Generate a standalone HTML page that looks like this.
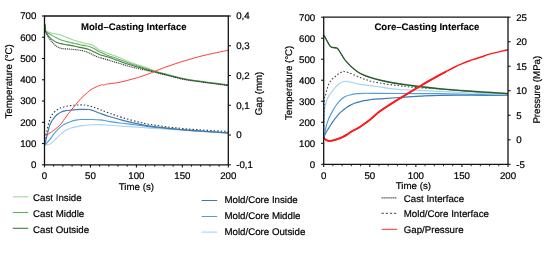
<!DOCTYPE html>
<html><head><meta charset="utf-8"><title>Chart</title>
<style>html,body{margin:0;padding:0;background:#fff;width:550px;height:253px;overflow:hidden}svg{display:block}text{stroke:#000;stroke-width:0.2px;text-rendering:geometricPrecision}</style>
</head><body>
<svg width="550" height="253" viewBox="0 0 550 253" font-family='"Liberation Sans", Arial, Helvetica, sans-serif' font-size="9.7" fill="#000" stroke="none">
<rect width="550" height="253" fill="#ffffff"/>
<path d="M44.90,144.80 C45.25,144.82 46.15,145.02 47.00,144.90 C47.85,144.78 48.85,144.78 50.00,144.10 C51.15,143.42 52.58,142.02 53.90,140.80 C55.22,139.58 56.58,138.03 57.90,136.80 C59.22,135.57 60.45,134.53 61.80,133.40 C63.15,132.27 64.48,130.88 66.00,130.00 C67.52,129.12 69.25,128.62 70.90,128.10 C72.55,127.58 74.22,127.27 75.90,126.90 C77.58,126.53 78.20,126.25 81.00,125.90 C83.80,125.55 89.53,125.02 92.70,124.80 C95.87,124.58 97.12,124.52 100.00,124.60 C102.88,124.68 106.20,125.03 110.00,125.30 C113.80,125.57 118.13,125.88 122.80,126.20 C127.47,126.52 133.92,126.92 138.00,127.20 C142.08,127.48 144.33,127.68 147.30,127.90 C150.27,128.12 151.02,128.18 155.80,128.50 C160.58,128.82 168.63,129.32 176.00,129.80 C183.37,130.28 191.33,130.83 200.00,131.40 C208.67,131.97 223.33,132.90 228.00,133.20" fill="none" stroke="#a9d3f0" stroke-width="1.1" stroke-linejoin="round" opacity="1.0"/>
<path d="M44.90,144.60 C45.08,144.47 45.15,144.68 46.00,143.80 C46.85,142.92 48.68,140.95 50.00,139.30 C51.32,137.65 52.58,135.55 53.90,133.90 C55.22,132.25 56.58,130.73 57.90,129.40 C59.22,128.07 60.45,126.88 61.80,125.90 C63.15,124.92 64.48,124.25 66.00,123.50 C67.52,122.75 69.25,121.97 70.90,121.40 C72.55,120.83 74.22,120.42 75.90,120.10 C77.58,119.78 78.63,119.60 81.00,119.50 C83.37,119.40 86.93,119.43 90.10,119.50 C93.27,119.57 96.68,119.55 100.00,119.90 C103.32,120.25 106.20,121.03 110.00,121.60 C113.80,122.17 118.13,122.70 122.80,123.30 C127.47,123.90 133.92,124.68 138.00,125.20 C142.08,125.72 144.33,126.03 147.30,126.40 C150.27,126.77 151.02,126.92 155.80,127.40 C160.58,127.88 168.63,128.68 176.00,129.30 C183.37,129.92 191.33,130.48 200.00,131.10 C208.67,131.72 223.33,132.68 228.00,133.00" fill="none" stroke="#4f9fdc" stroke-width="1.1" stroke-linejoin="round" opacity="1.0"/>
<path d="M44.90,144.60 C45.08,143.75 45.60,141.18 46.00,139.50 C46.40,137.82 46.88,136.17 47.30,134.50 C47.72,132.83 48.10,131.02 48.50,129.50 C48.90,127.98 49.28,126.55 49.70,125.40 C50.12,124.25 50.60,123.42 51.00,122.60 C51.40,121.78 51.52,121.38 52.10,120.50 C52.68,119.62 53.58,118.35 54.50,117.30 C55.42,116.25 56.55,115.05 57.60,114.20 C58.65,113.35 59.57,112.75 60.80,112.20 C62.03,111.65 63.32,111.25 65.00,110.90 C66.68,110.55 69.08,110.32 70.90,110.10 C72.72,109.88 74.22,109.72 75.90,109.60 C77.58,109.48 78.83,109.42 81.00,109.40 C83.17,109.38 86.95,109.32 88.90,109.50 C90.85,109.68 90.85,109.87 92.70,110.50 C94.55,111.13 97.12,112.25 100.00,113.30 C102.88,114.35 106.20,115.63 110.00,116.80 C113.80,117.97 118.13,119.12 122.80,120.30 C127.47,121.48 133.92,123.02 138.00,123.90 C142.08,124.78 144.33,125.10 147.30,125.60 C150.27,126.10 151.02,126.32 155.80,126.90 C160.58,127.48 168.63,128.42 176.00,129.10 C183.37,129.78 191.33,130.38 200.00,131.00 C208.67,131.62 223.33,132.50 228.00,132.80" fill="none" stroke="#3d7ab3" stroke-width="1.2" stroke-linejoin="round" opacity="1.0"/>
<path d="M44.90,138.50 C45.13,137.62 45.90,134.78 46.30,133.20 C46.70,131.62 46.92,130.60 47.30,129.00 C47.68,127.40 48.07,125.50 48.60,123.60 C49.13,121.70 49.78,119.25 50.50,117.60 C51.22,115.95 51.97,114.88 52.90,113.70 C53.83,112.52 55.05,111.35 56.10,110.50 C57.15,109.65 58.15,109.12 59.20,108.60 C60.25,108.08 61.17,107.78 62.40,107.40 C63.63,107.02 65.18,106.60 66.60,106.30 C68.02,106.00 69.35,105.80 70.90,105.60 C72.45,105.40 74.22,105.22 75.90,105.10 C77.58,104.98 79.27,104.88 81.00,104.90 C82.73,104.92 84.35,104.87 86.30,105.20 C88.25,105.53 90.42,106.17 92.70,106.90 C94.98,107.63 97.12,108.52 100.00,109.60 C102.88,110.68 106.20,112.05 110.00,113.40 C113.80,114.75 118.13,116.28 122.80,117.70 C127.47,119.12 133.92,120.87 138.00,121.90 C142.08,122.93 144.33,123.33 147.30,123.90 C150.27,124.47 151.02,124.63 155.80,125.30 C160.58,125.97 168.63,127.13 176.00,127.90 C183.37,128.67 191.33,129.30 200.00,129.90 C208.67,130.50 223.33,131.23 228.00,131.50" fill="none" stroke="#3a3a3a" stroke-width="1.1" stroke-dasharray="1.5,2.0" stroke-linejoin="round" opacity="1.0"/>
<path d="M44.90,24.00 C44.97,24.92 45.05,28.30 45.30,29.50 C45.55,30.70 45.43,30.62 46.40,31.20 C47.37,31.78 49.53,32.53 51.10,33.00 C52.67,33.47 54.42,33.75 55.80,34.00 C57.18,34.25 58.37,34.27 59.40,34.50 C60.43,34.73 60.73,34.92 62.00,35.40 C63.27,35.88 65.35,36.73 67.00,37.40 C68.65,38.07 70.25,38.78 71.90,39.40 C73.55,40.02 75.22,40.57 76.90,41.10 C78.58,41.63 80.65,42.22 82.00,42.60 C83.35,42.98 83.68,43.10 85.00,43.40 C86.32,43.70 88.58,44.07 89.90,44.40 C91.22,44.73 91.92,44.92 92.90,45.40 C93.88,45.88 94.95,46.70 95.80,47.30 C96.65,47.90 97.30,48.50 98.00,49.00 C98.70,49.50 98.35,49.57 100.00,50.30 C101.65,51.03 104.90,52.30 107.90,53.40 C110.90,54.50 114.18,55.38 118.00,56.90 C121.82,58.42 126.13,60.73 130.80,62.50 C135.47,64.27 141.98,66.10 146.00,67.50 C150.02,68.90 151.77,69.87 154.90,70.90 C158.03,71.93 161.52,72.80 164.80,73.70 C168.08,74.60 171.23,75.47 174.60,76.30 C177.97,77.13 180.30,77.85 185.00,78.70 C189.70,79.55 196.87,80.55 202.80,81.40 C208.73,82.25 216.40,83.25 220.60,83.80 C224.80,84.35 226.77,84.55 228.00,84.70" fill="none" stroke="#a3d89c" stroke-width="1.1" stroke-linejoin="round" opacity="1.0"/>
<path d="M44.90,24.00 C44.97,24.92 45.05,28.20 45.30,29.50 C45.55,30.80 45.43,30.92 46.40,31.80 C47.37,32.68 49.53,33.83 51.10,34.80 C52.67,35.77 54.42,36.87 55.80,37.60 C57.18,38.33 58.20,38.70 59.40,39.20 C60.60,39.70 61.73,40.20 63.00,40.60 C64.27,41.00 65.52,41.22 67.00,41.60 C68.48,41.98 70.25,42.52 71.90,42.90 C73.55,43.28 75.22,43.53 76.90,43.90 C78.58,44.27 80.65,44.82 82.00,45.10 C83.35,45.38 83.68,45.33 85.00,45.60 C86.32,45.87 88.42,46.23 89.90,46.70 C91.38,47.17 92.75,47.82 93.90,48.40 C95.05,48.98 95.78,49.58 96.80,50.20 C97.82,50.82 98.15,51.23 100.00,52.10 C101.85,52.97 104.90,54.27 107.90,55.40 C110.90,56.53 114.18,57.50 118.00,58.90 C121.82,60.30 126.13,62.18 130.80,63.80 C135.47,65.42 141.98,67.35 146.00,68.60 C150.02,69.85 151.77,70.40 154.90,71.30 C158.03,72.20 161.52,73.12 164.80,74.00 C168.08,74.88 171.23,75.77 174.60,76.60 C177.97,77.43 180.30,78.15 185.00,79.00 C189.70,79.85 196.87,80.87 202.80,81.70 C208.73,82.53 216.40,83.47 220.60,84.00 C224.80,84.53 226.77,84.75 228.00,84.90" fill="none" stroke="#5eb25e" stroke-width="1.1" stroke-linejoin="round" opacity="1.0"/>
<path d="M44.90,24.50 C44.97,25.42 45.05,28.58 45.30,30.00 C45.55,31.42 45.63,31.73 46.40,33.00 C47.17,34.27 48.72,36.33 49.90,37.60 C51.08,38.87 52.32,39.78 53.50,40.60 C54.68,41.42 55.82,42.00 57.00,42.50 C58.18,43.00 59.43,43.30 60.60,43.60 C61.77,43.90 62.93,44.08 64.00,44.30 C65.07,44.52 65.68,44.68 67.00,44.90 C68.32,45.12 70.25,45.28 71.90,45.60 C73.55,45.92 75.55,46.50 76.90,46.80 C78.25,47.10 78.65,47.13 80.00,47.40 C81.35,47.67 83.35,47.98 85.00,48.40 C86.65,48.82 88.25,49.25 89.90,49.90 C91.55,50.55 93.22,51.50 94.90,52.30 C96.58,53.10 97.83,53.93 100.00,54.70 C102.17,55.47 104.90,55.92 107.90,56.90 C110.90,57.88 114.18,59.23 118.00,60.60 C121.82,61.97 126.13,63.62 130.80,65.10 C135.47,66.58 141.98,68.38 146.00,69.50 C150.02,70.62 151.77,70.98 154.90,71.80 C158.03,72.62 161.52,73.55 164.80,74.40 C168.08,75.25 171.23,76.08 174.60,76.90 C177.97,77.72 180.30,78.47 185.00,79.30 C189.70,80.13 196.87,81.08 202.80,81.90 C208.73,82.72 216.40,83.67 220.60,84.20 C224.80,84.73 226.77,84.95 228.00,85.10" fill="none" stroke="#437c43" stroke-width="1.1" stroke-linejoin="round" opacity="1.0"/>
<path d="M44.90,25.00 C44.97,25.92 45.05,29.07 45.30,30.50 C45.55,31.93 45.63,32.10 46.40,33.60 C47.17,35.10 48.72,37.82 49.90,39.50 C51.08,41.18 52.32,42.52 53.50,43.70 C54.68,44.88 55.82,45.85 57.00,46.60 C58.18,47.35 59.43,47.83 60.60,48.20 C61.77,48.57 62.93,48.68 64.00,48.80 C65.07,48.92 65.68,48.82 67.00,48.90 C68.32,48.98 70.25,49.15 71.90,49.30 C73.55,49.45 75.55,49.63 76.90,49.80 C78.25,49.97 78.65,50.05 80.00,50.30 C81.35,50.55 83.35,50.80 85.00,51.30 C86.65,51.80 88.25,52.55 89.90,53.30 C91.55,54.05 93.22,55.07 94.90,55.80 C96.58,56.53 97.83,57.02 100.00,57.70 C102.17,58.38 104.90,59.02 107.90,59.90 C110.90,60.78 114.18,61.85 118.00,63.00 C121.82,64.15 126.13,65.58 130.80,66.80 C135.47,68.02 141.98,69.38 146.00,70.30 C150.02,71.22 151.77,71.55 154.90,72.30 C158.03,73.05 161.52,73.97 164.80,74.80 C168.08,75.63 171.23,76.48 174.60,77.30 C177.97,78.12 180.30,78.87 185.00,79.70 C189.70,80.53 196.87,81.48 202.80,82.30 C208.73,83.12 216.40,84.07 220.60,84.60 C224.80,85.13 226.77,85.35 228.00,85.50" fill="none" stroke="#333333" stroke-width="1.1" stroke-dasharray="1.1,0.8" stroke-linejoin="round" opacity="1.0"/>
<path d="M44.90,135.30 C45.08,135.23 45.48,135.08 46.00,134.90 C46.52,134.72 47.33,134.53 48.00,134.20 C48.67,133.87 49.18,133.45 50.00,132.90 C50.82,132.35 51.75,131.73 52.90,130.90 C54.05,130.07 55.57,129.05 56.90,127.90 C58.23,126.75 59.83,125.20 60.90,124.00 C61.97,122.80 62.35,122.03 63.30,120.70 C64.25,119.37 65.33,117.72 66.60,116.00 C67.87,114.28 69.35,112.33 70.90,110.40 C72.45,108.47 74.22,106.40 75.90,104.40 C77.58,102.40 79.50,100.00 81.00,98.40 C82.50,96.80 83.42,96.15 84.90,94.80 C86.38,93.45 88.25,91.50 89.90,90.30 C91.55,89.10 93.17,88.42 94.80,87.60 C96.43,86.78 98.38,85.88 99.70,85.40 C101.02,84.92 102.03,84.73 102.70,84.70 C103.37,84.67 103.20,85.25 103.70,85.20 C104.20,85.15 104.65,84.65 105.70,84.40 C106.75,84.15 107.97,84.00 110.00,83.70 C112.03,83.40 114.93,83.17 117.90,82.60 C120.87,82.03 124.52,81.13 127.80,80.30 C131.08,79.47 134.23,78.63 137.60,77.60 C140.97,76.57 145.12,75.15 148.00,74.10 C150.88,73.05 152.10,72.42 154.90,71.30 C157.70,70.18 161.52,68.62 164.80,67.40 C168.08,66.18 171.23,65.12 174.60,64.00 C177.97,62.88 180.30,62.08 185.00,60.70 C189.70,59.32 196.87,57.18 202.80,55.70 C208.73,54.22 216.40,52.70 220.60,51.80 C224.80,50.90 226.77,50.55 228.00,50.30" fill="none" stroke="#ff3b3b" stroke-width="1.0" stroke-linejoin="round" opacity="1.0"/>
<path d="M323.60,137.40 C323.83,136.92 324.35,135.73 325.00,134.50 C325.65,133.27 326.68,131.37 327.50,130.00 C328.32,128.63 328.98,127.75 329.90,126.30 C330.82,124.85 331.90,122.88 333.00,121.30 C334.10,119.72 335.38,118.15 336.50,116.80 C337.62,115.45 338.62,114.28 339.70,113.20 C340.78,112.12 341.87,111.23 343.00,110.30 C344.13,109.37 345.33,108.42 346.50,107.60 C347.67,106.78 348.67,106.12 350.00,105.40 C351.33,104.68 352.93,103.90 354.50,103.30 C356.07,102.70 357.82,102.23 359.40,101.80 C360.98,101.37 362.35,101.03 364.00,100.70 C365.65,100.37 367.47,100.07 369.30,99.80 C371.13,99.53 372.57,99.30 375.00,99.10 C377.43,98.90 379.40,98.90 383.90,98.60 C388.40,98.30 395.98,97.70 402.00,97.30 C408.02,96.90 413.67,96.53 420.00,96.20 C426.33,95.87 431.67,95.47 440.00,95.30 C448.33,95.13 458.67,95.17 470.00,95.20 C481.33,95.23 501.67,95.45 508.00,95.50" fill="none" stroke="#3d7ab3" stroke-width="1.2" stroke-linejoin="round" opacity="1.0"/>
<path d="M323.60,137.40 C323.68,137.33 323.68,138.80 324.10,137.00 C324.52,135.20 325.30,129.72 326.10,126.60 C326.90,123.48 327.85,120.83 328.90,118.30 C329.95,115.77 331.17,113.62 332.40,111.40 C333.63,109.18 335.12,106.72 336.30,105.00 C337.48,103.28 338.45,102.22 339.50,101.10 C340.55,99.98 341.55,99.10 342.60,98.30 C343.65,97.50 344.57,96.85 345.80,96.30 C347.03,95.75 348.15,95.43 350.00,95.00 C351.85,94.57 354.77,93.98 356.90,93.70 C359.03,93.42 359.78,93.37 362.80,93.30 C365.82,93.23 368.47,93.27 375.00,93.30 C381.53,93.33 391.17,93.43 402.00,93.50 C412.83,93.57 428.67,93.57 440.00,93.70 C451.33,93.83 458.67,94.08 470.00,94.30 C481.33,94.52 501.67,94.88 508.00,95.00" fill="none" stroke="#4f9fdc" stroke-width="1.2" stroke-linejoin="round" opacity="1.0"/>
<path d="M323.60,137.40 C323.67,134.17 323.85,122.48 324.00,118.00 C324.15,113.52 324.25,112.75 324.50,110.50 C324.75,108.25 325.08,106.33 325.50,104.50 C325.92,102.67 326.42,100.98 327.00,99.50 C327.58,98.02 328.35,96.68 329.00,95.60 C329.65,94.52 329.93,94.30 330.90,93.00 C331.87,91.70 333.48,89.32 334.80,87.80 C336.12,86.28 337.47,84.92 338.80,83.90 C340.13,82.88 341.43,82.13 342.80,81.70 C344.17,81.27 345.47,81.20 347.00,81.30 C348.53,81.40 349.83,81.80 352.00,82.30 C354.17,82.80 356.88,83.75 360.00,84.30 C363.12,84.85 367.15,85.12 370.70,85.60 C374.25,86.08 376.42,86.55 381.30,87.20 C386.18,87.85 390.22,88.82 400.00,89.50 C409.78,90.18 428.33,90.72 440.00,91.30 C451.67,91.88 458.67,92.45 470.00,93.00 C481.33,93.55 501.67,94.33 508.00,94.60" fill="none" stroke="#a9d3f0" stroke-width="1.2" stroke-linejoin="round" opacity="1.0"/>
<path d="M323.60,137.00 C323.67,132.50 323.85,116.60 324.00,110.00 C324.15,103.40 324.25,99.92 324.50,97.40 C324.75,94.88 325.18,95.85 325.50,94.90 C325.82,93.95 326.08,92.88 326.40,91.70 C326.72,90.52 326.98,89.12 327.40,87.80 C327.82,86.48 328.23,85.12 328.90,83.80 C329.57,82.48 330.42,81.05 331.40,79.90 C332.38,78.75 333.73,77.82 334.80,76.90 C335.87,75.98 336.72,75.18 337.80,74.40 C338.88,73.62 340.33,72.68 341.30,72.20 C342.27,71.72 342.43,71.45 343.60,71.50 C344.77,71.55 346.53,71.92 348.30,72.50 C350.07,73.08 352.25,74.17 354.20,75.00 C356.15,75.83 358.05,76.73 360.00,77.50 C361.95,78.27 363.93,78.93 365.90,79.60 C367.87,80.27 369.50,80.93 371.80,81.50 C374.10,82.07 376.67,82.48 379.70,83.00 C382.73,83.52 386.62,84.13 390.00,84.60 C393.38,85.07 396.97,85.43 400.00,85.80 C403.03,86.17 404.72,86.45 408.20,86.80 C411.68,87.15 415.60,87.53 420.90,87.90 C426.20,88.27 431.82,88.45 440.00,89.00 C448.18,89.55 461.67,90.62 470.00,91.20 C478.33,91.78 483.67,92.08 490.00,92.50 C496.33,92.92 505.00,93.50 508.00,93.70" fill="none" stroke="#444444" stroke-width="1.05" stroke-dasharray="1.6,1.9" stroke-linejoin="round" opacity="1.0"/>
<path d="M323.60,34.60 C323.67,34.67 323.77,34.68 324.00,35.00 C324.23,35.32 324.58,35.75 325.00,36.50 C325.42,37.25 326.02,38.58 326.50,39.50 C326.98,40.42 327.33,41.02 327.90,42.00 C328.47,42.98 329.23,44.58 329.90,45.40 C330.57,46.22 331.07,46.60 331.90,46.90 C332.73,47.20 334.07,47.07 334.90,47.20 C335.73,47.33 336.33,47.42 336.90,47.70 C337.47,47.98 337.82,48.28 338.30,48.90 C338.78,49.52 339.12,50.30 339.80,51.40 C340.48,52.50 341.58,54.22 342.40,55.50 C343.22,56.78 343.72,57.82 344.70,59.10 C345.68,60.38 347.10,61.92 348.30,63.20 C349.50,64.48 350.32,65.42 351.90,66.80 C353.48,68.18 355.83,70.22 357.80,71.50 C359.77,72.78 361.55,73.57 363.70,74.50 C365.85,75.43 367.77,76.18 370.70,77.10 C373.63,78.02 377.75,79.15 381.30,80.00 C384.85,80.85 388.88,81.62 392.00,82.20 C395.12,82.78 397.30,83.10 400.00,83.50 C402.70,83.90 404.87,84.17 408.20,84.60 C411.53,85.03 414.70,85.48 420.00,86.10 C425.30,86.72 431.67,87.53 440.00,88.30 C448.33,89.07 461.67,90.08 470.00,90.70 C478.33,91.32 483.67,91.58 490.00,92.00 C496.33,92.42 505.00,93.00 508.00,93.20" fill="none" stroke="#a3d89c" stroke-width="1.0" stroke-linejoin="round" opacity="1.0"/>
<path d="M323.60,35.40 C323.67,35.47 323.77,35.48 324.00,35.80 C324.23,36.12 324.58,36.55 325.00,37.30 C325.42,38.05 326.02,39.38 326.50,40.30 C326.98,41.22 327.33,41.82 327.90,42.80 C328.47,43.78 329.23,45.38 329.90,46.20 C330.57,47.02 331.07,47.40 331.90,47.70 C332.73,48.00 334.07,47.87 334.90,48.00 C335.73,48.13 336.33,48.22 336.90,48.50 C337.47,48.78 337.82,49.08 338.30,49.70 C338.78,50.32 339.12,51.10 339.80,52.20 C340.48,53.30 341.58,55.02 342.40,56.30 C343.22,57.58 343.72,58.62 344.70,59.90 C345.68,61.18 347.10,62.72 348.30,64.00 C349.50,65.28 350.32,66.22 351.90,67.60 C353.48,68.98 355.83,71.02 357.80,72.30 C359.77,73.58 361.55,74.37 363.70,75.30 C365.85,76.23 367.77,76.98 370.70,77.90 C373.63,78.82 377.75,79.95 381.30,80.80 C384.85,81.65 388.88,82.42 392.00,83.00 C395.12,83.58 397.30,83.90 400.00,84.30 C402.70,84.70 404.87,84.97 408.20,85.40 C411.53,85.83 414.70,86.28 420.00,86.90 C425.30,87.52 431.67,88.33 440.00,89.10 C448.33,89.87 461.67,90.88 470.00,91.50 C478.33,92.12 483.67,92.38 490.00,92.80 C496.33,93.22 505.00,93.80 508.00,94.00" fill="none" stroke="#5eb25e" stroke-width="1.0" stroke-linejoin="round" opacity="1.0"/>
<path d="M323.60,35.00 C323.67,35.07 323.77,35.08 324.00,35.40 C324.23,35.72 324.58,36.15 325.00,36.90 C325.42,37.65 326.02,38.98 326.50,39.90 C326.98,40.82 327.33,41.42 327.90,42.40 C328.47,43.38 329.23,44.98 329.90,45.80 C330.57,46.62 331.07,47.00 331.90,47.30 C332.73,47.60 334.07,47.47 334.90,47.60 C335.73,47.73 336.33,47.82 336.90,48.10 C337.47,48.38 337.82,48.68 338.30,49.30 C338.78,49.92 339.12,50.70 339.80,51.80 C340.48,52.90 341.58,54.62 342.40,55.90 C343.22,57.18 343.72,58.22 344.70,59.50 C345.68,60.78 347.10,62.32 348.30,63.60 C349.50,64.88 350.32,65.82 351.90,67.20 C353.48,68.58 355.83,70.62 357.80,71.90 C359.77,73.18 361.55,73.97 363.70,74.90 C365.85,75.83 367.77,76.58 370.70,77.50 C373.63,78.42 377.75,79.55 381.30,80.40 C384.85,81.25 388.88,82.02 392.00,82.60 C395.12,83.18 397.30,83.50 400.00,83.90 C402.70,84.30 404.87,84.57 408.20,85.00 C411.53,85.43 414.70,85.88 420.00,86.50 C425.30,87.12 431.67,87.93 440.00,88.70 C448.33,89.47 461.67,90.48 470.00,91.10 C478.33,91.72 483.67,91.98 490.00,92.40 C496.33,92.82 505.00,93.40 508.00,93.60" fill="none" stroke="#30603a" stroke-width="1.1" stroke-linejoin="round" opacity="1.0"/>
<path d="M323.60,35.20 C323.67,35.27 323.77,35.28 324.00,35.60 C324.23,35.92 324.58,36.35 325.00,37.10 C325.42,37.85 326.02,39.18 326.50,40.10 C326.98,41.02 327.33,41.62 327.90,42.60 C328.47,43.58 329.23,45.18 329.90,46.00 C330.57,46.82 331.07,47.20 331.90,47.50 C332.73,47.80 334.07,47.67 334.90,47.80 C335.73,47.93 336.33,48.02 336.90,48.30 C337.47,48.58 337.82,48.88 338.30,49.50 C338.78,50.12 339.12,50.90 339.80,52.00 C340.48,53.10 341.58,54.82 342.40,56.10 C343.22,57.38 343.72,58.42 344.70,59.70 C345.68,60.98 347.10,62.52 348.30,63.80 C349.50,65.08 350.32,66.02 351.90,67.40 C353.48,68.78 355.83,70.82 357.80,72.10 C359.77,73.38 361.55,74.17 363.70,75.10 C365.85,76.03 367.77,76.78 370.70,77.70 C373.63,78.62 377.75,79.75 381.30,80.60 C384.85,81.45 388.88,82.22 392.00,82.80 C395.12,83.38 397.30,83.70 400.00,84.10 C402.70,84.50 404.87,84.77 408.20,85.20 C411.53,85.63 414.70,86.08 420.00,86.70 C425.30,87.32 431.67,88.13 440.00,88.90 C448.33,89.67 461.67,90.68 470.00,91.30 C478.33,91.92 483.67,92.18 490.00,92.60 C496.33,93.02 505.00,93.60 508.00,93.80" fill="none" stroke="#303030" stroke-width="0.8" stroke-dasharray="1,1" stroke-linejoin="round" opacity="1.0"/>
<path d="M323.60,137.60 C323.92,137.93 324.73,139.07 325.50,139.60 C326.27,140.13 327.17,140.62 328.20,140.80 C329.23,140.98 330.20,140.97 331.70,140.70 C333.20,140.43 335.37,139.82 337.20,139.20 C339.03,138.58 341.07,137.77 342.70,137.00 C344.33,136.23 345.43,135.57 347.00,134.60 C348.57,133.63 350.03,132.42 352.10,131.20 C354.17,129.98 357.02,128.77 359.40,127.30 C361.78,125.83 364.35,123.90 366.40,122.40 C368.45,120.90 369.78,119.90 371.70,118.30 C373.62,116.70 375.87,114.45 377.90,112.80 C379.93,111.15 381.92,109.77 383.90,108.40 C385.88,107.03 387.83,105.85 389.80,104.60 C391.77,103.35 393.67,102.15 395.70,100.90 C397.73,99.65 399.95,98.35 402.00,97.10 C404.05,95.85 406.00,94.62 408.00,93.40 C410.00,92.18 412.00,91.00 414.00,89.80 C416.00,88.60 418.00,87.40 420.00,86.20 C422.00,85.00 424.00,83.77 426.00,82.60 C428.00,81.43 430.00,80.32 432.00,79.20 C434.00,78.08 435.68,77.17 438.00,75.90 C440.32,74.63 443.27,73.00 445.90,71.60 C448.53,70.20 451.17,68.80 453.80,67.50 C456.43,66.20 459.07,64.93 461.70,63.80 C464.33,62.67 467.38,61.50 469.60,60.70 C471.82,59.90 472.95,59.67 475.00,59.00 C477.05,58.33 479.60,57.47 481.90,56.70 C484.20,55.93 486.50,55.08 488.80,54.40 C491.10,53.72 493.38,53.18 495.70,52.60 C498.02,52.02 500.65,51.37 502.70,50.90 C504.75,50.43 507.12,49.98 508.00,49.80" fill="none" stroke="#ff1a1a" stroke-width="1.45" stroke-linejoin="round" opacity="1.0"/>
<path d="M323.60,137.60 C323.92,137.93 324.73,139.07 325.50,139.60 C326.27,140.13 327.17,140.62 328.20,140.80 C329.23,140.98 330.20,140.97 331.70,140.70 C333.20,140.43 335.37,139.82 337.20,139.20 C339.03,138.58 341.07,137.77 342.70,137.00 C344.33,136.23 345.43,135.57 347.00,134.60 C348.57,133.63 350.03,132.42 352.10,131.20 C354.17,129.98 357.02,128.77 359.40,127.30 C361.78,125.83 364.35,123.90 366.40,122.40 C368.45,120.90 369.78,119.90 371.70,118.30 C373.62,116.70 375.87,114.45 377.90,112.80 C379.93,111.15 381.92,109.77 383.90,108.40 C385.88,107.03 387.83,105.85 389.80,104.60 C391.77,103.35 393.67,102.15 395.70,100.90 C397.73,99.65 399.95,98.35 402.00,97.10 C404.05,95.85 406.00,94.62 408.00,93.40 C410.00,92.18 412.00,91.00 414.00,89.80 C416.00,88.60 418.00,87.40 420.00,86.20 C422.00,85.00 424.00,83.77 426.00,82.60 C428.00,81.43 430.00,80.32 432.00,79.20 C434.00,78.08 435.68,77.17 438.00,75.90 C440.32,74.63 444.58,72.32 445.90,71.60" fill="none" stroke="#ff1a1a" stroke-width="1.85" stroke-linejoin="round" opacity="1.0"/>
<path d="M44.5,16.0 H228.3 V164.8 H44.5 Z" fill="none" stroke="#141414" stroke-width="1.3"/>
<line x1="41.9" y1="164.80" x2="44.5" y2="164.80" stroke="#141414" stroke-width="1.1"/>
<text x="36.4" y="168.20" text-anchor="end">0</text>
<line x1="41.9" y1="143.54" x2="44.5" y2="143.54" stroke="#141414" stroke-width="1.1"/>
<text x="36.4" y="146.94" text-anchor="end">100</text>
<line x1="41.9" y1="122.29" x2="44.5" y2="122.29" stroke="#141414" stroke-width="1.1"/>
<text x="36.4" y="125.69" text-anchor="end">200</text>
<line x1="41.9" y1="101.03" x2="44.5" y2="101.03" stroke="#141414" stroke-width="1.1"/>
<text x="36.4" y="104.43" text-anchor="end">300</text>
<line x1="41.9" y1="79.77" x2="44.5" y2="79.77" stroke="#141414" stroke-width="1.1"/>
<text x="36.4" y="83.17" text-anchor="end">400</text>
<line x1="41.9" y1="58.51" x2="44.5" y2="58.51" stroke="#141414" stroke-width="1.1"/>
<text x="36.4" y="61.91" text-anchor="end">500</text>
<line x1="41.9" y1="37.26" x2="44.5" y2="37.26" stroke="#141414" stroke-width="1.1"/>
<text x="36.4" y="40.66" text-anchor="end">600</text>
<line x1="41.9" y1="16.00" x2="44.5" y2="16.00" stroke="#141414" stroke-width="1.1"/>
<text x="36.4" y="19.40" text-anchor="end">700</text>
<line x1="228.3" y1="164.80" x2="230.9" y2="164.80" stroke="#141414" stroke-width="1.1"/>
<text x="236.2" y="168.20">-0,1</text>
<line x1="228.3" y1="135.04" x2="230.9" y2="135.04" stroke="#141414" stroke-width="1.1"/>
<text x="236.2" y="138.44">0</text>
<line x1="228.3" y1="105.28" x2="230.9" y2="105.28" stroke="#141414" stroke-width="1.1"/>
<text x="236.2" y="108.68">0,1</text>
<line x1="228.3" y1="75.52" x2="230.9" y2="75.52" stroke="#141414" stroke-width="1.1"/>
<text x="236.2" y="78.92">0,2</text>
<line x1="228.3" y1="45.76" x2="230.9" y2="45.76" stroke="#141414" stroke-width="1.1"/>
<text x="236.2" y="49.16">0,3</text>
<line x1="228.3" y1="16.00" x2="230.9" y2="16.00" stroke="#141414" stroke-width="1.1"/>
<text x="236.2" y="19.40">0,4</text>
<line x1="44.50" y1="164.8" x2="44.50" y2="167.4" stroke="#141414" stroke-width="1.1"/>
<line x1="53.69" y1="164.8" x2="53.69" y2="166.8" stroke="#141414" stroke-width="0.9"/>
<line x1="62.88" y1="164.8" x2="62.88" y2="166.8" stroke="#141414" stroke-width="0.9"/>
<line x1="72.07" y1="164.8" x2="72.07" y2="166.8" stroke="#141414" stroke-width="0.9"/>
<line x1="81.26" y1="164.8" x2="81.26" y2="166.8" stroke="#141414" stroke-width="0.9"/>
<line x1="90.45" y1="164.8" x2="90.45" y2="167.4" stroke="#141414" stroke-width="1.1"/>
<line x1="99.64" y1="164.8" x2="99.64" y2="166.8" stroke="#141414" stroke-width="0.9"/>
<line x1="108.83" y1="164.8" x2="108.83" y2="166.8" stroke="#141414" stroke-width="0.9"/>
<line x1="118.02" y1="164.8" x2="118.02" y2="166.8" stroke="#141414" stroke-width="0.9"/>
<line x1="127.21" y1="164.8" x2="127.21" y2="166.8" stroke="#141414" stroke-width="0.9"/>
<line x1="136.40" y1="164.8" x2="136.40" y2="167.4" stroke="#141414" stroke-width="1.1"/>
<line x1="145.59" y1="164.8" x2="145.59" y2="166.8" stroke="#141414" stroke-width="0.9"/>
<line x1="154.78" y1="164.8" x2="154.78" y2="166.8" stroke="#141414" stroke-width="0.9"/>
<line x1="163.97" y1="164.8" x2="163.97" y2="166.8" stroke="#141414" stroke-width="0.9"/>
<line x1="173.16" y1="164.8" x2="173.16" y2="166.8" stroke="#141414" stroke-width="0.9"/>
<line x1="182.35" y1="164.8" x2="182.35" y2="167.4" stroke="#141414" stroke-width="1.1"/>
<line x1="191.54" y1="164.8" x2="191.54" y2="166.8" stroke="#141414" stroke-width="0.9"/>
<line x1="200.73" y1="164.8" x2="200.73" y2="166.8" stroke="#141414" stroke-width="0.9"/>
<line x1="209.92" y1="164.8" x2="209.92" y2="166.8" stroke="#141414" stroke-width="0.9"/>
<line x1="219.11" y1="164.8" x2="219.11" y2="166.8" stroke="#141414" stroke-width="0.9"/>
<line x1="228.30" y1="164.8" x2="228.30" y2="167.4" stroke="#141414" stroke-width="1.1"/>
<text x="44.50" y="179.40" text-anchor="middle">0</text>
<text x="90.45" y="179.40" text-anchor="middle">50</text>
<text x="136.40" y="179.40" text-anchor="middle">100</text>
<text x="182.35" y="179.40" text-anchor="middle">150</text>
<text x="228.30" y="179.40" text-anchor="middle">200</text>
<text x="136.40" y="189.50" text-anchor="middle">Time (s)</text>
<path d="M323.7,17.2 H508.0 V164.3 H323.7 Z" fill="none" stroke="#141414" stroke-width="1.3"/>
<line x1="321.09999999999997" y1="164.30" x2="323.7" y2="164.30" stroke="#141414" stroke-width="1.1"/>
<text x="315.2" y="167.70" text-anchor="end">0</text>
<line x1="321.09999999999997" y1="143.29" x2="323.7" y2="143.29" stroke="#141414" stroke-width="1.1"/>
<text x="315.2" y="146.69" text-anchor="end">100</text>
<line x1="321.09999999999997" y1="122.27" x2="323.7" y2="122.27" stroke="#141414" stroke-width="1.1"/>
<text x="315.2" y="125.67" text-anchor="end">200</text>
<line x1="321.09999999999997" y1="101.26" x2="323.7" y2="101.26" stroke="#141414" stroke-width="1.1"/>
<text x="315.2" y="104.66" text-anchor="end">300</text>
<line x1="321.09999999999997" y1="80.24" x2="323.7" y2="80.24" stroke="#141414" stroke-width="1.1"/>
<text x="315.2" y="83.64" text-anchor="end">400</text>
<line x1="321.09999999999997" y1="59.23" x2="323.7" y2="59.23" stroke="#141414" stroke-width="1.1"/>
<text x="315.2" y="62.63" text-anchor="end">500</text>
<line x1="321.09999999999997" y1="38.21" x2="323.7" y2="38.21" stroke="#141414" stroke-width="1.1"/>
<text x="315.2" y="41.61" text-anchor="end">600</text>
<line x1="321.09999999999997" y1="17.20" x2="323.7" y2="17.20" stroke="#141414" stroke-width="1.1"/>
<text x="315.2" y="20.60" text-anchor="end">700</text>
<line x1="508.0" y1="164.30" x2="510.6" y2="164.30" stroke="#141414" stroke-width="1.1"/>
<text x="516.2" y="167.70">-5</text>
<line x1="508.0" y1="139.78" x2="510.6" y2="139.78" stroke="#141414" stroke-width="1.1"/>
<text x="516.2" y="143.18">0</text>
<line x1="508.0" y1="115.27" x2="510.6" y2="115.27" stroke="#141414" stroke-width="1.1"/>
<text x="516.2" y="118.67">5</text>
<line x1="508.0" y1="90.75" x2="510.6" y2="90.75" stroke="#141414" stroke-width="1.1"/>
<text x="516.2" y="94.15">10</text>
<line x1="508.0" y1="66.23" x2="510.6" y2="66.23" stroke="#141414" stroke-width="1.1"/>
<text x="516.2" y="69.63">15</text>
<line x1="508.0" y1="41.72" x2="510.6" y2="41.72" stroke="#141414" stroke-width="1.1"/>
<text x="516.2" y="45.12">20</text>
<line x1="508.0" y1="17.20" x2="510.6" y2="17.20" stroke="#141414" stroke-width="1.1"/>
<text x="516.2" y="20.60">25</text>
<line x1="323.70" y1="164.3" x2="323.70" y2="166.9" stroke="#141414" stroke-width="1.1"/>
<line x1="332.91" y1="164.3" x2="332.91" y2="166.3" stroke="#141414" stroke-width="0.9"/>
<line x1="342.13" y1="164.3" x2="342.13" y2="166.3" stroke="#141414" stroke-width="0.9"/>
<line x1="351.34" y1="164.3" x2="351.34" y2="166.3" stroke="#141414" stroke-width="0.9"/>
<line x1="360.56" y1="164.3" x2="360.56" y2="166.3" stroke="#141414" stroke-width="0.9"/>
<line x1="369.77" y1="164.3" x2="369.77" y2="166.9" stroke="#141414" stroke-width="1.1"/>
<line x1="378.99" y1="164.3" x2="378.99" y2="166.3" stroke="#141414" stroke-width="0.9"/>
<line x1="388.20" y1="164.3" x2="388.20" y2="166.3" stroke="#141414" stroke-width="0.9"/>
<line x1="397.42" y1="164.3" x2="397.42" y2="166.3" stroke="#141414" stroke-width="0.9"/>
<line x1="406.63" y1="164.3" x2="406.63" y2="166.3" stroke="#141414" stroke-width="0.9"/>
<line x1="415.85" y1="164.3" x2="415.85" y2="166.9" stroke="#141414" stroke-width="1.1"/>
<line x1="425.06" y1="164.3" x2="425.06" y2="166.3" stroke="#141414" stroke-width="0.9"/>
<line x1="434.28" y1="164.3" x2="434.28" y2="166.3" stroke="#141414" stroke-width="0.9"/>
<line x1="443.50" y1="164.3" x2="443.50" y2="166.3" stroke="#141414" stroke-width="0.9"/>
<line x1="452.71" y1="164.3" x2="452.71" y2="166.3" stroke="#141414" stroke-width="0.9"/>
<line x1="461.92" y1="164.3" x2="461.92" y2="166.9" stroke="#141414" stroke-width="1.1"/>
<line x1="471.14" y1="164.3" x2="471.14" y2="166.3" stroke="#141414" stroke-width="0.9"/>
<line x1="480.36" y1="164.3" x2="480.36" y2="166.3" stroke="#141414" stroke-width="0.9"/>
<line x1="489.57" y1="164.3" x2="489.57" y2="166.3" stroke="#141414" stroke-width="0.9"/>
<line x1="498.78" y1="164.3" x2="498.78" y2="166.3" stroke="#141414" stroke-width="0.9"/>
<line x1="508.00" y1="164.3" x2="508.00" y2="166.9" stroke="#141414" stroke-width="1.1"/>
<text x="323.70" y="178.90" text-anchor="middle">0</text>
<text x="369.77" y="178.90" text-anchor="middle">50</text>
<text x="415.85" y="178.90" text-anchor="middle">100</text>
<text x="461.93" y="178.90" text-anchor="middle">150</text>
<text x="508.00" y="178.90" text-anchor="middle">200</text>
<text x="413.40" y="189.00" text-anchor="middle">Time (s)</text>
<text x="81" y="30.4" font-weight="bold" font-size="9.6" style="stroke-width:0.1px">Mold–Casting Interface</text>
<text x="374.4" y="30.4" font-weight="bold" font-size="9.6" style="stroke-width:0.1px">Core–Casting Interface</text>
<text transform="translate(12.0,81.4) rotate(-90)" text-anchor="middle">Temperature (°C)</text>
<text transform="translate(291.9,82.9) rotate(-90)" text-anchor="middle">Temperature (°C)</text>
<text transform="translate(261.6,93.5) rotate(-90)" text-anchor="middle">Gap (mm)</text>
<text transform="translate(540.4,89.7) rotate(-90)" text-anchor="middle">Pressure (MPa)</text>
<line x1="12.8" y1="196.8" x2="28.3" y2="196.8" stroke="#a3d89c" stroke-width="1.1"/>
<line x1="12.8" y1="212.5" x2="28.3" y2="212.5" stroke="#5eb25e" stroke-width="1.1"/>
<line x1="12.8" y1="228.3" x2="28.3" y2="228.3" stroke="#437c43" stroke-width="1.1"/>
<text x="33.1" y="201.4">Cast Inside</text>
<text x="33.1" y="217.2">Cast Middle</text>
<text x="33.1" y="233.0">Cast Outside</text>
<line x1="201.6" y1="200.5" x2="217.2" y2="200.5" stroke="#3d7ab3" stroke-width="1.0"/>
<line x1="201.6" y1="216.5" x2="217.2" y2="216.5" stroke="#4f9fdc" stroke-width="1.0"/>
<line x1="201.6" y1="232.1" x2="217.2" y2="232.1" stroke="#a9d3f0" stroke-width="1.1"/>
<text x="224.5" y="203.1">Mold/Core Inside</text>
<text x="224.5" y="218.9">Mold/Core Middle</text>
<text x="224.5" y="234.9">Mold/Core Outside</text>
<line x1="381.6" y1="197.8" x2="397.2" y2="197.8" stroke="#2a2a2a" stroke-width="1.2" stroke-dasharray="1.1,0.85"/>
<line x1="381.6" y1="213.3" x2="397.2" y2="213.3" stroke="#404040" stroke-width="1.0" stroke-dasharray="2.2,1.95"/>
<line x1="381.6" y1="229.3" x2="397.2" y2="229.3" stroke="#ff3030" stroke-width="1.0"/>
<text x="403.8" y="201.6">Cast Interface</text>
<text x="403.8" y="217.2">Mold/Core Interface</text>
<text x="403.8" y="233.0">Gap/Pressure</text>
</svg>
</body></html>
